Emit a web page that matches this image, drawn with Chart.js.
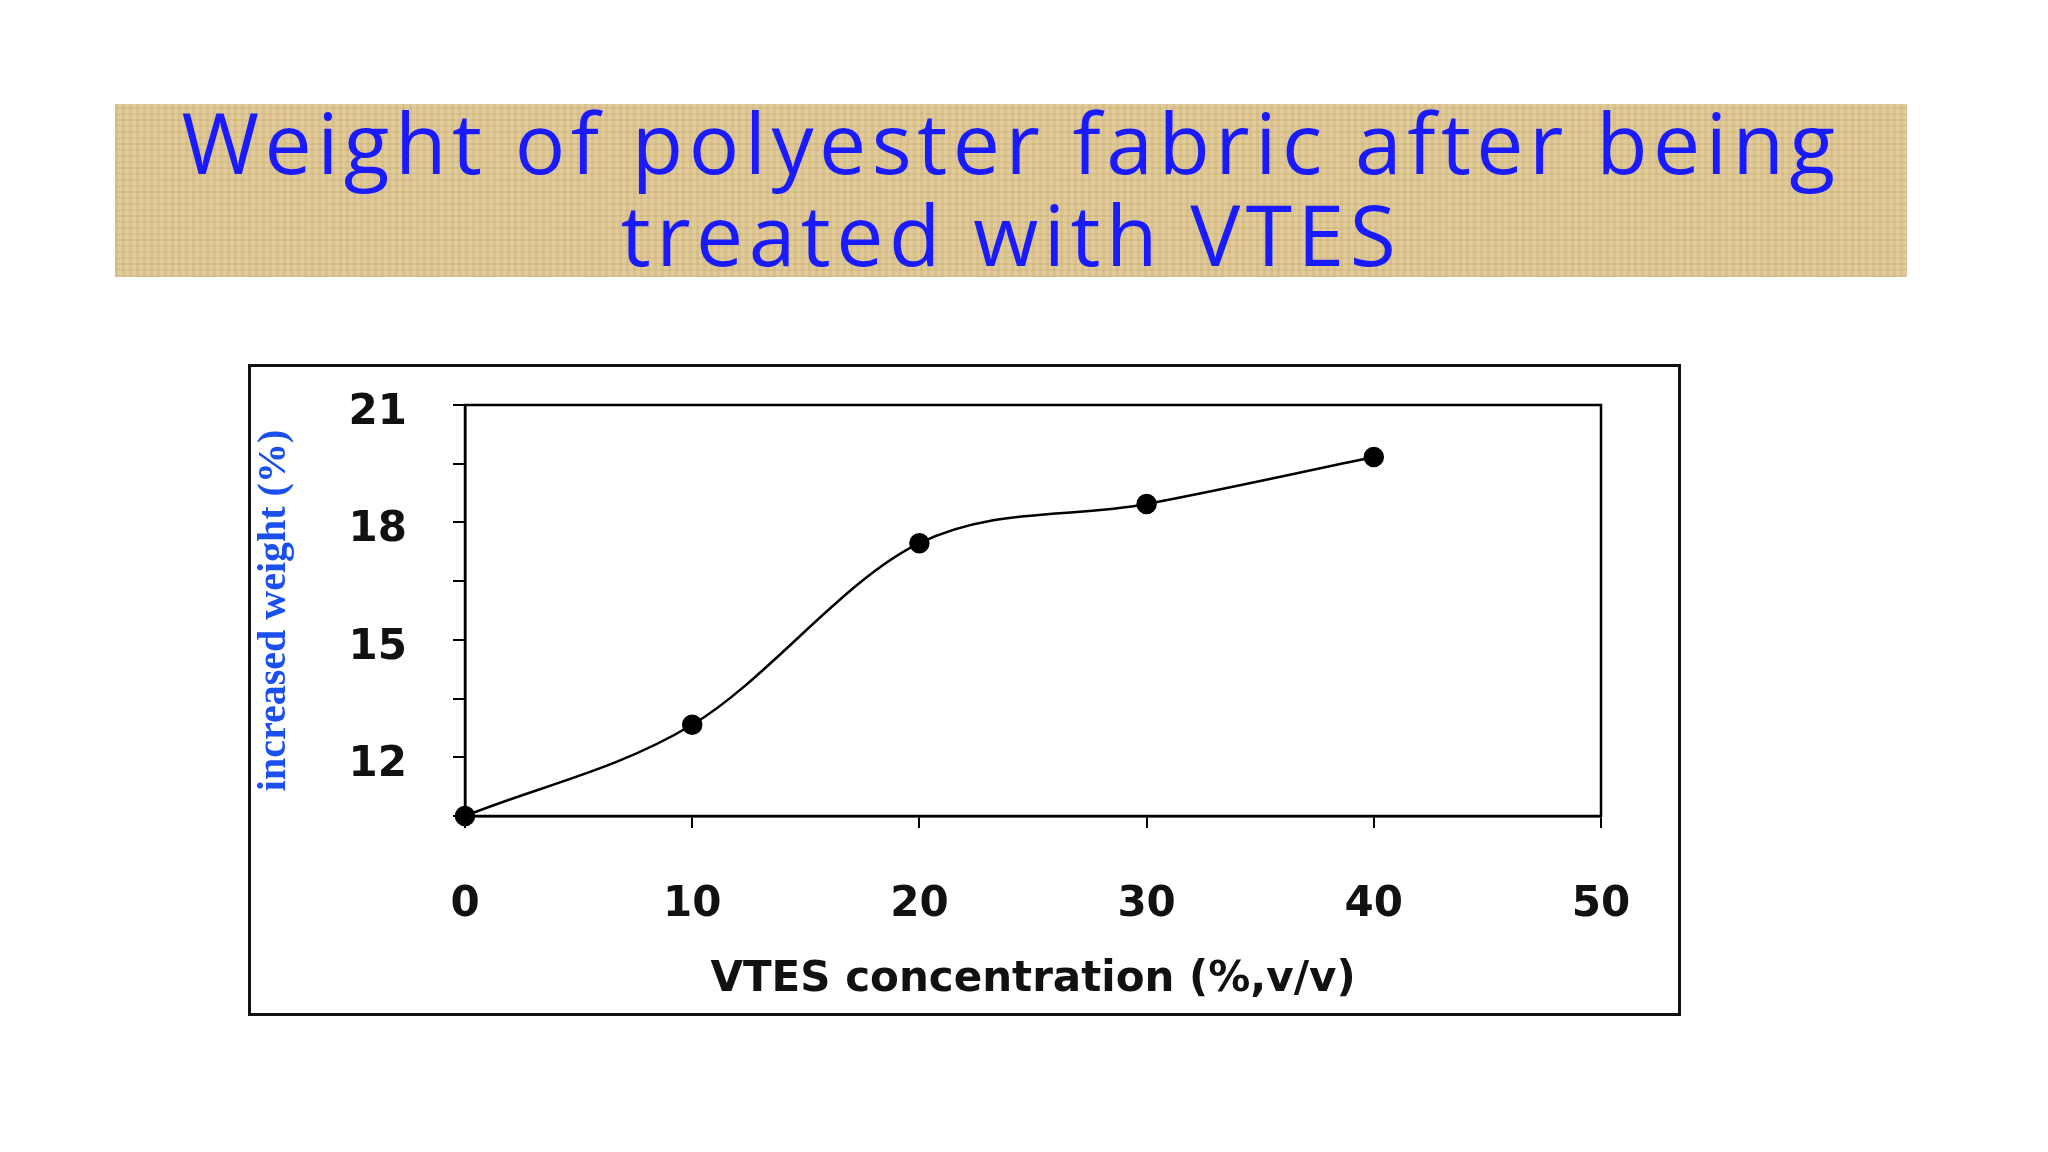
<!DOCTYPE html>
<html><head><meta charset="utf-8">
<script src="https://cdn.jsdelivr.net/npm/chart.js@4"></script>
<style>
  body { margin:0; width:2048px; height:1152px; background:#fff; position:relative; overflow:hidden; }
  #banner { position:absolute; left:115px; top:104px; width:1792px; height:173px;
    background: repeating-linear-gradient(90deg, rgba(150,120,60,0.08) 0 3px, rgba(255,255,255,0.05) 3px 7px),
                repeating-linear-gradient(0deg, rgba(150,120,60,0.08) 0 2px, rgba(255,255,255,0.05) 2px 6px),
                #ddc58f;
    color:#1a1aff; font-family:"Open Sans", sans-serif; font-size:84px; line-height:92px; font-weight:500;
    text-align:center; letter-spacing:5.5px; }
  #banner span { position:relative; top:-8px; }
  #box { position:absolute; left:248px; top:364px; width:1427px; height:646px; border:3px solid #111; }
</style></head>
<body>
<div id="banner"><span>Weight of polyester fabric after being<br>treated with VTES</span></div>
<div id="box"><canvas id="c" width="1427" height="646"></canvas></div>
<script>
  // データ
  const concentration = [0, 10, 20, 30, 40];
  const weightGain = [10.5, 12.83, 17.47, 18.47, 19.67];
  const xTicks = [0, 10, 20, 30, 40, 50];
  const yLabels = [12, 15, 18, 21];

  const tickFont = { family: "DejaVu Sans", weight: "bold", size: 42 };

  // プロット枠
  const frame = {
    id: "frame",
    afterDraw(chart) {
      const a = chart.chartArea, ctx = chart.ctx;
      ctx.save();
      ctx.strokeStyle = "#000"; ctx.lineWidth = 2.5;
      ctx.strokeRect(a.left, a.top, a.right - a.left, a.bottom - a.top);
      ctx.restore();
    }
  };

  new Chart(document.getElementById("c"), {
    type: "line",
    data: {
      datasets: [{
        data: concentration.map((x, i) => ({ x, y: weightGain[i] })),
        borderColor: "#000", borderWidth: 2.5,
        pointBackgroundColor: "#000", pointBorderColor: "#000", pointRadius: 9,
        cubicInterpolationMode: "monotone", clip: false
      }]
    },
    options: {
      responsive: false, animation: false,
      layout: { padding: { top: 38, right: 77 } },
      plugins: { legend: { display: false }, tooltip: { enabled: false } },
      scales: {
        x: {
          type: "linear", min: 0, max: 50,
          afterBuildTicks: s => { s.ticks = xTicks.map(v => ({ value: v })); },
          afterFit: s => { s.height = 197; s.paddingLeft = 0; s.paddingRight = 0; },
          grid: { drawOnChartArea: false, color: "#000", tickLength: 12, lineWidth: 2 },
          border: { color: "#000", width: 2.5 },
          ticks: { color: "#111", font: tickFont, padding: 52 },
          title: { display: true, text: "VTES concentration (%,v/v)", color: "#111",
                   font: { family: "DejaVu Sans", weight: "bold", size: 42 }, padding: { top: 0, bottom: 8 } }
        },
        y: {
          min: 10.5, max: 21,
          ticks: { stepSize: 1.5, color: "#111", font: tickFont, padding: 46, labelOffset: 8,
                   callback: v => yLabels.includes(v) ? v : "" },
          afterFit: s => { s.width = 214; s.paddingTop = 0; s.paddingBottom = 0; },
          grid: { drawOnChartArea: false, color: "#000", tickLength: 12, lineWidth: 2 },
          border: { color: "#000", width: 2.5 },
          title: { display: true, text: "increased weight (%)", color: "#1a4ff0",
                   font: { family: "Liberation Serif", weight: "bold", size: 40 }, padding: 0 }
        }
      }
    },
    plugins: [frame]
  });
</script>
</body></html>
